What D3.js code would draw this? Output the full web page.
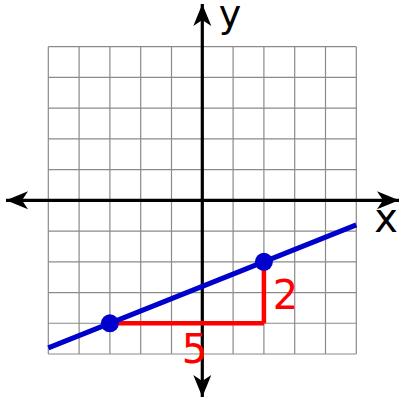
<!DOCTYPE html>
<html>
<head>
<meta charset="utf-8">
<script src="https://cdn.jsdelivr.net/npm/d3@7"></script>
<style>
  body { margin: 0; background: #fff; }
  svg { display: block; }
</style>
</head>
<body>
<div id="chart"></div>
<script>
// grid ticks from -5 to 5
var gridTicks = [-5, -4, -3, -2, -1, 0, 1, 2, 3, 4, 5];
// the two marked points
var points = [[-3, -4], [2, -2]];
// blue line ends
var lineEnds = [[-5, -4.8], [5, -0.8]];
// run / rise legs of the slope triangle
var runLeg = [[-3, -4], [2, -4]];
var riseLeg = [[2, -4], [2, -2]];
var legLabels = [{ text: "5", at: [-0.25, -5.3] }, { text: "2", at: [2.7, -3.55] }];

var width = 405, height = 403;

var x = d3.scaleLinear().domain([-5, 5]).range([48.3, 356.3]);
var y = d3.scaleLinear().domain([-5, 5]).range([354, 46.7]);

var svg = d3.select("#chart").append("svg")
	.attr("width", width)
	.attr("height", height);

var defs = svg.append("defs");
defs.append("marker")
	.attr("id", "arrow")
	.attr("markerUnits", "userSpaceOnUse")
	.attr("viewBox", "-24 -12 26 24")
	.attr("refX", 0).attr("refY", 0)
	.attr("markerWidth", 26).attr("markerHeight", 24)
	.attr("orient", "auto-start-reverse")
	.append("path")
	.attr("d", "M0,0 L-22,-9 L-16,0 L-22,9 Z")
	.attr("fill", "#000");

// grid
var grid = svg.append("g").attr("stroke", "#8a8a8a").attr("stroke-width", 1.2);
grid.selectAll("line.v").data(gridTicks).enter().append("line")
	.attr("x1", d => x(d)).attr("x2", d => x(d))
	.attr("y1", y(5)).attr("y2", y(-5));
grid.selectAll("line.h").data(gridTicks).enter().append("line")
	.attr("y1", d => y(d)).attr("y2", d => y(d))
	.attr("x1", x(-5)).attr("x2", x(5));

// axes with arrows
svg.append("line")
	.attr("x1", 6).attr("x2", 399)
	.attr("y1", y(0)).attr("y2", y(0))
	.attr("stroke", "#000").attr("stroke-width", 3.2)
	.attr("marker-start", "url(#arrow)")
	.attr("marker-end", "url(#arrow)");
svg.append("line")
	.attr("x1", x(0)).attr("x2", x(0))
	.attr("y1", 4).attr("y2", 397)
	.attr("stroke", "#000").attr("stroke-width", 3.2)
	.attr("marker-start", "url(#arrow)")
	.attr("marker-end", "url(#arrow)");

svg.append("text")
	.attr("x", 386).attr("y", 232)
	.attr("text-anchor", "middle")
	.style("font-family", "DejaVu Sans")
	.style("font-size", "40px")
	.text("x");
svg.append("text")
	.attr("x", 230).attr("y", 27)
	.attr("text-anchor", "middle")
	.style("font-family", "DejaVu Sans")
	.style("font-size", "38px")
	.text("y");

// slope triangle
var lineGen = d3.line().x(d => x(d[0])).y(d => y(d[1]));
[runLeg, riseLeg].forEach(function(leg) {
	svg.append("path")
		.attr("d", lineGen(leg))
		.attr("fill", "none")
		.attr("stroke", "#ff0000")
		.attr("stroke-width", 4.5);
});

svg.selectAll("text.leg").data(legLabels).enter().append("text")
	.attr("x", d => x(d.at[0])).attr("y", d => y(d.at[1]))
	.attr("text-anchor", "middle")
	.attr("fill", "#ff0000")
	.style("font-family", "DejaVu Sans")
	.style("font-size", "40px")
	.text(d => d.text);

// blue line
svg.append("path")
	.attr("d", lineGen(lineEnds))
	.attr("fill", "none")
	.attr("stroke", "#0000cc")
	.attr("stroke-width", 5);

svg.selectAll("circle").data(points).enter().append("circle")
	.attr("cx", d => x(d[0])).attr("cy", d => y(d[1]))
	.attr("r", 9)
	.attr("fill", "#0000cc");
</script>
</body>
</html>
